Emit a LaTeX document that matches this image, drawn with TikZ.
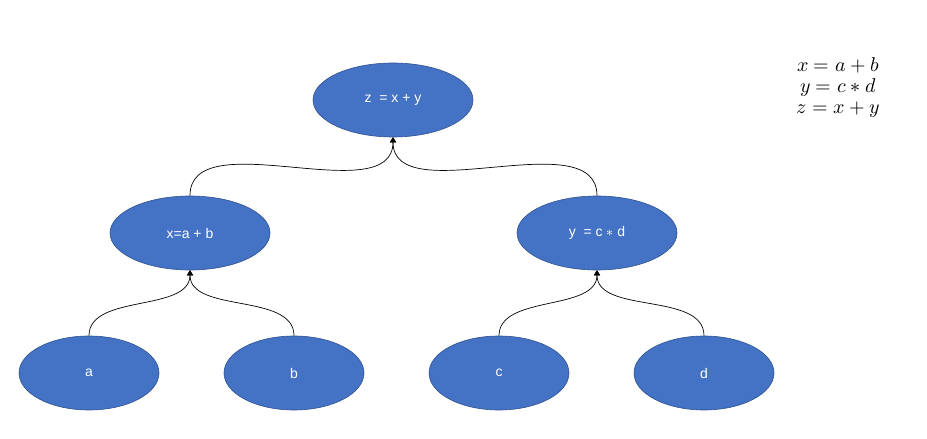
\documentclass[tikz,border=0pt]{standalone}
\usepackage{fontspec}
\setmainfont{Liberation Sans}
\usepackage{unicode-math}
\setmathfont{Latin Modern Math}
\usetikzlibrary{arrows.meta,shapes.geometric}
\definecolor{nfill}{HTML}{4472C4}
\definecolor{nedge}{HTML}{2F528F}
\tikzset{
  blob/.style={ellipse, fill=nfill, draw=nedge, line width=0.6pt, text=white, font=\fontsize{14}{16}\selectfont, inner sep=0pt},
  link/.style={-{Triangle[length=5pt,width=6pt]}, line width=0.7pt, out=90, in=-90, looseness=0.9}
}
\begin{document}
\begin{tikzpicture}[x=1pt,y=1pt]
\useasboundingbox (0,0) rectangle (927,439);
\node[blob, minimum width=160, minimum height=74] (z) at (393,339) {z\ \ = x + y};
\node[blob, minimum width=160, minimum height=74] (x) at (190,206) {x=a + b};
\node[blob, minimum width=160, minimum height=74] (y) at (597,206) {y\ \ = c $*$ d};
\node[blob, minimum width=140, minimum height=74] (a) at (89,66) {a};
\node[blob, minimum width=140, minimum height=74] (b) at (294,66) {b};
\node[blob, minimum width=140, minimum height=74] (c) at (499,66) {c};
\node[blob, minimum width=140, minimum height=74] (d) at (704,66) {d};
\draw[link] (x.north) to (z.south);
\draw[link] (y.north) to (z.south);
\draw[link] (a.north) to (x.south);
\draw[link] (b.north) to (x.south);
\draw[link] (c.north) to (y.south);
\draw[link] (d.north) to (y.south);
\node[font=\fontsize{20}{24}\selectfont, align=center] (eq) at (838,351) {$x=a+b$\\[-3pt]$y=c*d$\\[-3pt]$z=x+y$};
\end{tikzpicture}
\end{document}
